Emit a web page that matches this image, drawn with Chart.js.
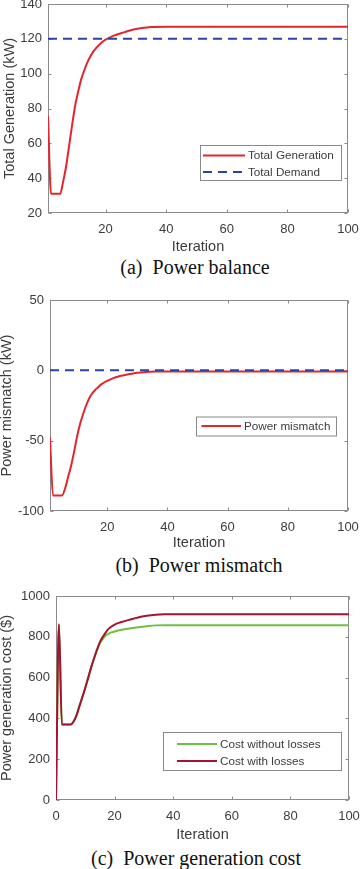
<!DOCTYPE html>
<html>
<head>
<meta charset="utf-8">
<script src="https://cdn.jsdelivr.net/npm/chart.js@4.4.1/dist/chart.umd.min.js"></script>
<style>
  html, body { margin: 0; padding: 0; background: #fff; }
  body { width: 360px; height: 869px; position: relative; overflow: hidden; }
  .panel { position: absolute; left: 0; }
  .caption {
    position: absolute; width: 360px; text-align: center;
    font-family: "Liberation Serif", "Times New Roman", serif;
    font-size: 20px; line-height: 20px; color: #111; white-space: pre;
  }
</style>
</head>
<body>
<div class="panel" style="top:0px"><canvas id="chartA" width="360" height="256"></canvas></div>
<div class="caption" style="top:257px; left:15px">(a)&ensp;Power balance</div>

<div class="panel" style="top:290px"><canvas id="chartB" width="360" height="262"></canvas></div>
<div class="caption" style="top:555px; left:19px">(b)&ensp;Power mismatch</div>

<div class="panel" style="top:580px"><canvas id="chartC" width="360" height="264"></canvas></div>
<div class="caption" style="top:848px; left:16px">(c)&ensp;Power generation cost</div>

<script>
// (a) power balance
const genIter = [1, 2, 5, 6, 7, 8, 9, 10, 11, 12, 13, 14, 15, 16, 17, 18, 20, 22, 24, 26, 28, 30, 32, 35, 40, 50, 100];
const genValues = [76, 31, 31, 38, 47, 59, 71, 82, 90, 97, 102, 106.5, 110, 112.8, 115, 116.8, 119.5, 121.3, 122.6, 123.7, 124.8, 125.6, 126.2, 126.8, 127, 127, 127];
const demandIter = [1, 100];
const demandValues = [120, 120];

// (b) power mismatch
const mismatchIter = [1, 2, 5, 6, 7, 8, 9, 10, 11, 12, 13, 14, 15, 16, 17, 18, 20, 22, 24, 26, 28, 30, 33, 36, 40, 100];
const mismatchValues = [-48, -89, -89, -84, -76, -68, -58, -47, -38, -31, -25, -20, -16.5, -14, -12, -10, -7.5, -5.5, -4.2, -3.3, -2.5, -1.8, -1.2, -0.9, -0.8, -0.8];
const zeroIter = [1, 100];
const zeroValues = [0, 0];

// (c) generation cost
const costIter = [0, 1, 2, 5, 6, 7, 8, 9, 10, 11, 12, 13, 14, 15, 16, 17, 18, 20, 22, 25, 28, 31, 34, 37, 40, 100];
const costNoLoss = [0, 862, 370, 370, 385, 415, 460, 505, 550, 600, 650, 695, 735, 768, 790, 806, 816, 826, 833, 841, 847, 852, 856, 857, 857, 857];
const costWithLoss = [0, 862, 370, 370, 385, 415, 460, 505, 550, 600, 650, 695, 737, 775, 800, 822, 840, 860, 871, 883, 895, 903, 908, 910, 910, 911];

const xTicksA = [20, 40, 60, 80, 100];
const yTicksA = [20, 40, 60, 80, 100, 120, 140];
const xTicksB = [20, 40, 60, 80, 100];
const yTicksB = [-100, -50, 0, 50];
const xTicksC = [0, 20, 40, 60, 80, 100];
const yTicksC = [0, 200, 400, 600, 800, 1000];

const textColor = '#3c3c3c';
const frameColor = '#8a8a8a';
const sans = '"Liberation Sans", Arial, sans-serif';

function toPoints(xs, ys) {
  return xs.map((x, i) => ({ x: x, y: ys[i] }));
}

// box round the plot area with inward ticks on all four sides
const frame = {
  id: 'frame',
  beforeDatasetsDraw(chart) {
    const { ctx, chartArea: a, scales } = chart;
    const l = Math.round(a.left) + 0.5, r = Math.round(a.right) - 0.5;
    const t = Math.round(a.top) + 0.5, b = Math.round(a.bottom) - 0.5;
    ctx.save();
    ctx.strokeStyle = frameColor;
    ctx.lineWidth = 1;
    ctx.strokeRect(l, t, r - l, b - t);
    ctx.beginPath();
    scales.x.ticks.forEach(tk => {
      const px = Math.round(scales.x.getPixelForValue(tk.value)) + 0.5;
      ctx.moveTo(px, b); ctx.lineTo(px, b - 3);
      ctx.moveTo(px, t); ctx.lineTo(px, t + 3);
    });
    scales.y.ticks.forEach(tk => {
      const py = Math.round(scales.y.getPixelForValue(tk.value)) + 0.5;
      ctx.moveTo(l, py); ctx.lineTo(l + 3, py);
      ctx.moveTo(r, py); ctx.lineTo(r - 3, py);
    });
    ctx.stroke();
    ctx.restore();
  }
};

// matlab style legend box
const boxLegend = {
  id: 'boxLegend',
  afterDraw(chart, args, opts) {
    if (!opts || !opts.items) return;
    const ctx = chart.ctx;
    ctx.save();
    ctx.fillStyle = '#fff';
    ctx.fillRect(opts.left, opts.top, opts.width, opts.height);
    ctx.strokeStyle = frameColor;
    ctx.lineWidth = 1;
    ctx.strokeRect(opts.left + 0.5, opts.top + 0.5, opts.width, opts.height);
    ctx.font = '11.7px ' + sans;
    ctx.textBaseline = 'middle';
    opts.items.forEach((dsIndex, i) => {
      const ds = chart.data.datasets[dsIndex];
      const y = opts.rows[i];
      ctx.beginPath();
      ctx.strokeStyle = ds.borderColor;
      ctx.lineWidth = ds.borderWidth;
      ctx.setLineDash(ds.borderDash || []);
      ctx.moveTo(opts.sample[0], y);
      ctx.lineTo(opts.sample[1], y);
      ctx.stroke();
      ctx.setLineDash([]);
      ctx.fillStyle = textColor;
      ctx.fillText(ds.label, opts.sample[1] + 3, y + 0.5);
    });
    ctx.restore();
  }
};

function makeChart(id, p) {
  return new Chart(document.getElementById(id), {
    type: 'line',
    data: { datasets: p.datasets },
    plugins: [frame, boxLegend],
    options: {
      responsive: false,
      animation: false,
      devicePixelRatio: 1,
      layout: { padding: { top: p.top, right: p.right, left: 0, bottom: 0 } },
      elements: { point: { radius: 0 }, line: { borderWidth: 2, cubicInterpolationMode: 'monotone' } },
      plugins: {
        legend: { display: false },
        tooltip: { enabled: false },
        boxLegend: p.legend
      },
      scales: {
        x: {
          type: 'linear', min: p.xMin, max: 100,
          grid: { display: false, drawTicks: false },
          border: { display: false },
          ticks: { color: textColor, font: { family: sans, size: 13 }, padding: 9, maxRotation: 0, autoSkip: false, callback: v => String(v) },
          title: { display: true, text: 'Iteration', color: textColor, font: { family: sans, size: 14.5 }, padding: 0 },
          afterBuildTicks: s => { s.ticks = p.xTicks.map(v => ({ value: v })); },
          afterFit: s => { s.height = p.xHeight; s.paddingLeft = 0; s.paddingRight = 0; }
        },
        y: {
          type: 'linear', min: p.yTicks[0], max: p.yTicks[p.yTicks.length - 1],
          grid: { display: false, drawTicks: false },
          border: { display: false },
          ticks: { color: textColor, font: { family: sans, size: 13 }, padding: 6, callback: v => String(v) },
          title: { display: true, text: p.yTitle, color: textColor, font: { family: sans, size: 14.5 }, padding: { top: p.yTitlePad, bottom: 0 } },
          afterBuildTicks: s => { s.ticks = p.yTicks.map(v => ({ value: v })); },
          afterFit: s => { s.width = p.left; s.paddingTop = 0; s.paddingBottom = 0; }
        }
      }
    }
  });
}

makeChart('chartA', {
  top: 4, right: 12, left: 48, xHeight: 43, xMin: 1,
  xTicks: xTicksA, yTicks: yTicksA, yTitle: 'Total Generation (kW)', yTitlePad: 1.5,
  datasets: [
    { label: 'Total Generation', data: toPoints(genIter, genValues), borderColor: '#e3262b', borderWidth: 2, order: 2 },
    { label: 'Total Demand', data: toPoints(demandIter, demandValues), borderColor: '#2b44a3', borderWidth: 2, borderDash: [9, 6], order: 1 }
  ],
  legend: { items: [0, 1], left: 200, top: 145, width: 141, height: 35, sample: [203, 245], rows: [155.5, 172] }
});

makeChart('chartB', {
  top: 10, right: 12, left: 50, xHeight: 41, xMin: 1,
  xTicks: xTicksB, yTicks: yTicksB, yTitle: 'Power mismatch (kW)', yTitlePad: -1.5,
  datasets: [
    { label: 'Power mismatch', data: toPoints(mismatchIter, mismatchValues), borderColor: '#e3262b', borderWidth: 2, order: 2 },
    { label: 'Zero', data: toPoints(zeroIter, zeroValues), borderColor: '#2b44a3', borderWidth: 2, borderDash: [9, 6], order: 1 }
  ],
  legend: { items: [0], left: 196, top: 126.5, width: 140, height: 19, sample: [201.5, 241], rows: [136] }
});

makeChart('chartC', {
  top: 16, right: 11, left: 56, xHeight: 44, xMin: 0,
  xTicks: xTicksC, yTicks: yTicksC, yTitle: 'Power generation cost ($)', yTitlePad: -1.5,
  datasets: [
    { label: 'Cost without losses', data: toPoints(costIter, costNoLoss), borderColor: '#70bf41', borderWidth: 2, order: 2 },
    { label: 'Cost with losses', data: toPoints(costIter, costWithLoss), borderColor: '#a2142f', borderWidth: 2, order: 1 }
  ],
  legend: { items: [0, 1], left: 163, top: 152, width: 178, height: 38, sample: [177, 217], rows: [164, 181] }
});
</script>
</body>
</html>
